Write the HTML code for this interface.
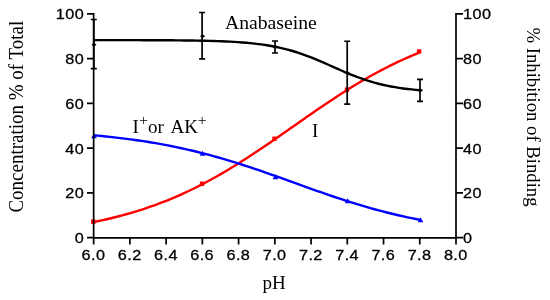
<!DOCTYPE html>
<html><head><meta charset="utf-8"><style>
html,body{margin:0;padding:0;background:#fff;}
body{width:550px;height:300px;overflow:hidden;}
svg{display:block;}
</style></head><body>
<svg width="550" height="300" viewBox="0 0 550 300">
<g class="data">
<path d="M93.30,222.15 L97.42,221.30 L101.55,220.42 L105.67,219.50 L109.80,218.54 L113.92,217.54 L118.04,216.49 L122.17,215.41 L126.29,214.28 L130.42,213.10 L134.54,211.88 L138.66,210.61 L142.79,209.29 L146.91,207.91 L151.04,206.49 L155.16,205.02 L159.28,203.49 L163.41,201.91 L167.53,200.27 L171.66,198.58 L175.78,196.83 L179.91,195.03 L184.03,193.16 L188.15,191.25 L192.28,189.27 L196.40,187.24 L200.53,185.15 L204.65,183.01 L208.77,180.81 L212.90,178.55 L217.02,176.24 L221.15,173.88 L225.27,171.47 L229.39,169.01 L233.52,166.50 L237.64,163.95 L241.77,161.35 L245.89,158.71 L250.01,156.04 L254.14,153.32 L258.26,150.58 L262.39,147.80 L266.51,145.00 L270.63,142.17 L274.76,139.32 L278.88,136.46 L283.01,133.59 L287.13,130.70 L291.25,127.81 L295.38,124.92 L299.50,122.03 L303.63,119.15 L307.75,116.27 L311.87,113.41 L316.00,110.57 L320.12,107.75 L324.25,104.95 L328.37,102.18 L332.49,99.44 L336.62,96.73 L340.74,94.06 L344.87,91.43 L348.99,88.84 L353.12,86.29 L357.24,83.79 L361.36,81.34 L365.49,78.93 L369.61,76.58 L373.74,74.28 L377.86,72.04 L381.98,69.85 L386.11,67.71 L390.23,65.63 L394.36,63.61 L398.48,61.64 L402.60,59.73 L406.73,57.88 L410.85,56.09 L414.98,54.35 L419.10,52.66" fill="none" stroke="#ff0000" stroke-width="2.4"/>
<path d="M93.50,135.27 L97.63,135.65 L101.77,136.04 L105.90,136.46 L110.03,136.89 L114.16,137.35 L118.30,137.83 L122.43,138.32 L126.56,138.84 L130.70,139.39 L134.83,139.96 L138.96,140.55 L143.09,141.17 L147.23,141.81 L151.36,142.48 L155.49,143.18 L159.63,143.91 L163.76,144.66 L167.89,145.44 L172.03,146.26 L176.16,147.10 L180.29,147.97 L184.42,148.88 L188.56,149.81 L192.69,150.78 L196.82,151.78 L200.96,152.81 L205.09,153.87 L209.22,154.96 L213.35,156.08 L217.49,157.23 L221.62,158.41 L225.75,159.62 L229.89,160.86 L234.02,162.13 L238.15,163.42 L242.28,164.74 L246.42,166.08 L250.55,167.44 L254.68,168.82 L258.82,170.22 L262.95,171.64 L267.08,173.08 L271.22,174.53 L275.35,175.99 L279.48,177.46 L283.61,178.94 L287.75,180.42 L291.88,181.91 L296.01,183.40 L300.15,184.89 L304.28,186.37 L308.41,187.85 L312.54,189.32 L316.68,190.78 L320.81,192.23 L324.94,193.67 L329.08,195.09 L333.21,196.49 L337.34,197.87 L341.47,199.23 L345.61,200.57 L349.74,201.89 L353.87,203.18 L358.01,204.45 L362.14,205.68 L366.27,206.89 L370.41,208.07 L374.54,209.22 L378.67,210.35 L382.80,211.44 L386.94,212.50 L391.07,213.52 L395.20,214.52 L399.34,215.49 L403.47,216.42 L407.60,217.33 L411.73,218.20 L415.87,219.04 L420.00,219.86" fill="none" stroke="#0000ff" stroke-width="2.4"/>
<path d="M93.50,40.11 L97.63,40.11 L101.76,40.11 L105.89,40.12 L110.02,40.12 L114.15,40.12 L118.28,40.13 L122.41,40.14 L126.54,40.14 L130.67,40.15 L134.80,40.16 L138.93,40.17 L143.06,40.18 L147.19,40.19 L151.33,40.21 L155.46,40.22 L159.59,40.24 L163.72,40.26 L167.85,40.29 L171.98,40.32 L176.11,40.35 L180.24,40.39 L184.37,40.44 L188.50,40.49 L192.63,40.55 L196.76,40.62 L200.89,40.69 L205.02,40.78 L209.15,40.89 L213.28,41.00 L217.41,41.14 L221.54,41.29 L225.67,41.47 L229.80,41.67 L233.93,41.90 L238.06,42.16 L242.19,42.46 L246.32,42.80 L250.45,43.18 L254.58,43.61 L258.72,44.10 L262.85,44.66 L266.98,45.28 L271.11,45.97 L275.24,46.75 L279.37,47.60 L283.50,48.56 L287.63,49.60 L291.76,50.74 L295.89,51.99 L300.02,53.33 L304.15,54.77 L308.28,56.30 L312.41,57.92 L316.54,59.61 L320.67,61.36 L324.80,63.17 L328.93,65.00 L333.06,66.85 L337.19,68.69 L341.32,70.51 L345.45,72.29 L349.58,74.02 L353.71,75.68 L357.84,77.25 L361.97,78.74 L366.11,80.14 L370.24,81.43 L374.37,82.63 L378.50,83.73 L382.63,84.73 L386.76,85.64 L390.89,86.46 L395.02,87.19 L399.15,87.85 L403.28,88.44 L407.41,88.96 L411.54,89.43 L415.67,89.84 L419.80,90.20" fill="none" stroke="#000" stroke-width="2.4"/>
<rect x="91.10" y="219.50" width="4.4" height="4.4" fill="#ff0000"/>
<rect x="199.90" y="181.55" width="4.4" height="4.4" fill="#ff0000"/>
<rect x="272.30" y="136.55" width="4.4" height="4.4" fill="#ff0000"/>
<rect x="344.80" y="87.50" width="4.4" height="4.4" fill="#ff0000"/>
<rect x="416.90" y="49.30" width="4.4" height="4.4" fill="#ff0000"/>
<path d="M94.00,133.20 L96.80,138.20 L91.20,138.20 Z" fill="#0000ff"/>
<path d="M202.50,150.70 L205.30,155.70 L199.70,155.70 Z" fill="#0000ff"/>
<path d="M275.50,174.20 L278.30,179.20 L272.70,179.20 Z" fill="#0000ff"/>
<path d="M347.70,198.20 L350.50,203.20 L344.90,203.20 Z" fill="#0000ff"/>
<path d="M420.50,217.20 L423.30,222.20 L417.70,222.20 Z" fill="#0000ff"/>
<path d="M93.80,19.50 V68.70 M90.80,19.50 H96.80 M90.80,68.70 H96.80" stroke="#000" stroke-width="1.7" fill="none"/>
<path d="M202.10,12.50 V58.90 M199.10,12.50 H205.10 M199.10,58.90 H205.10" stroke="#000" stroke-width="1.7" fill="none"/>
<path d="M275.00,41.00 V53.00 M272.00,41.00 H278.00 M272.00,53.00 H278.00" stroke="#000" stroke-width="1.7" fill="none"/>
<path d="M347.20,41.25 V104.20 M344.20,41.25 H350.20 M344.20,104.20 H350.20" stroke="#000" stroke-width="1.7" fill="none"/>
<path d="M420.00,79.30 V101.30 M417.00,79.30 H423.00 M417.00,101.30 H423.00" stroke="#000" stroke-width="1.7" fill="none"/>
<path d="M91.40,44.80 L94.00,42.90 L96.60,44.80 L94.00,46.70 Z" fill="#000"/>
<path d="M200.00,36.20 L202.60,34.30 L205.20,36.20 L202.60,38.10 Z" fill="#000"/>
<path d="M272.40,46.80 L275.00,44.90 L277.60,46.80 L275.00,48.70 Z" fill="#000"/>
<path d="M344.70,72.70 L347.30,70.80 L349.90,72.70 L347.30,74.60 Z" fill="#000"/>
<path d="M417.90,90.30 L420.50,88.40 L423.10,90.30 L420.50,92.20 Z" fill="#000"/>
<path d="M93.65,13 V238.5 M456,13 V238.5 M92.85,237.95 H456.8 M87,237.70 H93.65 M456,237.70 H463 M87,192.92 H93.65 M456,192.92 H463 M87,148.14 H93.65 M456,148.14 H463 M87,103.36 H93.65 M456,103.36 H463 M87,58.58 H93.65 M456,58.58 H463 M87,13.80 H93.65 M456,13.80 H463 M93.65,237.7 V244.5 M129.89,237.7 V244.5 M166.12,237.7 V244.5 M202.35,237.7 V244.5 M238.59,237.7 V244.5 M274.83,237.7 V244.5 M311.06,237.7 V244.5 M347.30,237.7 V244.5 M383.53,237.7 V244.5 M419.76,237.7 V244.5 M456.00,237.7 V244.5" stroke="#000" stroke-width="1.7" fill="none"/>
</g>
<g class="tick" font-family="Liberation Sans, Arial, sans-serif" font-size="15" letter-spacing="0.4" fill="#000" stroke="#000" stroke-width="0.3">
<text transform="translate(84.1,243.10) scale(1.08,1)" text-anchor="end">0</text>
<text transform="translate(463.0,243.10) scale(1.08,1)">0</text>
<text transform="translate(84.1,198.32) scale(1.08,1)" text-anchor="end">20</text>
<text transform="translate(463.0,198.32) scale(1.08,1)">20</text>
<text transform="translate(84.1,153.54) scale(1.08,1)" text-anchor="end">40</text>
<text transform="translate(463.0,153.54) scale(1.08,1)">40</text>
<text transform="translate(84.1,108.76) scale(1.08,1)" text-anchor="end">60</text>
<text transform="translate(463.0,108.76) scale(1.08,1)">60</text>
<text transform="translate(84.1,63.98) scale(1.08,1)" text-anchor="end">80</text>
<text transform="translate(463.0,63.98) scale(1.08,1)">80</text>
<text transform="translate(84.1,19.20) scale(1.08,1)" text-anchor="end">100</text>
<text transform="translate(463.0,19.20) scale(1.08,1)">100</text>
<text transform="translate(93.45,260.2) scale(1.08,1)" text-anchor="middle">6.0</text>
<text transform="translate(129.69,260.2) scale(1.08,1)" text-anchor="middle">6.2</text>
<text transform="translate(165.92,260.2) scale(1.08,1)" text-anchor="middle">6.4</text>
<text transform="translate(202.15,260.2) scale(1.08,1)" text-anchor="middle">6.6</text>
<text transform="translate(238.39,260.2) scale(1.08,1)" text-anchor="middle">6.8</text>
<text transform="translate(274.63,260.2) scale(1.08,1)" text-anchor="middle">7.0</text>
<text transform="translate(310.86,260.2) scale(1.08,1)" text-anchor="middle">7.2</text>
<text transform="translate(347.10,260.2) scale(1.08,1)" text-anchor="middle">7.4</text>
<text transform="translate(383.33,260.2) scale(1.08,1)" text-anchor="middle">7.6</text>
<text transform="translate(419.56,260.2) scale(1.08,1)" text-anchor="middle">7.8</text>
<text transform="translate(455.80,260.2) scale(1.08,1)" text-anchor="middle">8.0</text>
</g>
<g font-family="Liberation Serif, Times New Roman, serif" font-size="19" fill="#000">
<text transform="translate(224.9,28.5) scale(1.072,1)" font-size="18.4">Anabaseine</text>
<text x="132.6" y="132.5">I</text>
<text x="139.3" y="124.6" font-size="15.5">+</text>
<text x="147.9" y="132.5">or</text>
<text x="170.6" y="132.5">AK</text>
<text x="197.8" y="124.8" font-size="15.5">+</text>
<text x="312" y="137.2">I</text>
<text x="262.5" y="288.7">pH</text>
<text transform="translate(23.2,212.6) scale(1.1,1) rotate(-90)">Concentration % of Total</text>
<text transform="translate(527.3,27.5) scale(1.06,1) rotate(90)" font-size="18.7">% Inhibition of Binding</text>
</g>
</svg>
</body></html>
